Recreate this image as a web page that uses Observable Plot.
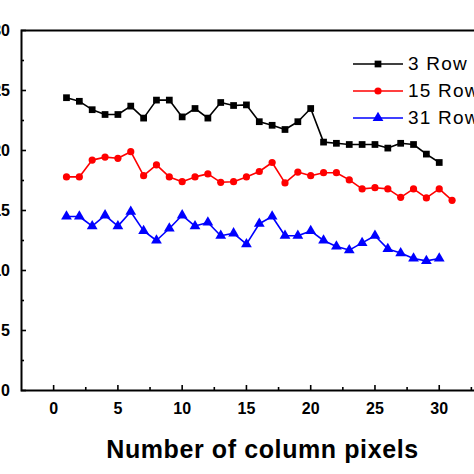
<!DOCTYPE html>
<html><head><meta charset="utf-8">
<script src="https://cdn.jsdelivr.net/npm/d3@7"></script>
<script src="https://cdn.jsdelivr.net/npm/@observablehq/plot@0.6"></script>
<style>
html,body{margin:0;padding:0;background:#fff;overflow:hidden;width:474px;height:474px}
#wrap{position:relative;width:474px;height:474px;overflow:hidden;background:#fff}
#chart{position:absolute;left:0;top:0;width:520px;height:474px}
#chart svg{overflow:visible;max-width:none !important;width:520px;height:474px}
#chart g[aria-label="x-axis label"] text{font-size:25px;font-weight:bold;letter-spacing:0.6px}
.lg{position:absolute;left:353px;height:20px;display:flex;align-items:center;white-space:nowrap;font:19px "Liberation Sans",Arial,sans-serif;letter-spacing:1.2px;color:#000}
.lg svg{display:block;margin-right:5px}
</style></head><body><div id="wrap"><div id="chart"></div></div>
<script>
// ---- data ----
const columnPixels = [1,2,3,4,5,6,7,8,9,10,11,12,13,14,15,16,17,18,19,20,21,22,23,24,25,26,27,28,29,30,31];
const seriesNames = ["3 Row", "15 Row", "31 Row"];
const row3  = [24.4,24.1,23.4,23.0,23.0,23.7,22.7,24.2,24.2,22.8,23.5,22.7,24.0,23.75,23.8,22.4,22.1,21.75,22.4,23.5,20.7,20.6,20.5,20.5,20.5,20.2,20.6,20.5,19.7,19.0];
const row15 = [17.8,17.8,19.2,19.45,19.35,19.9,17.9,18.8,17.8,17.4,17.8,18.05,17.35,17.4,17.8,18.25,19.0,17.3,18.2,17.9,18.15,18.15,17.55,16.8,16.9,16.8,16.1,16.8,16.05,16.8,15.85];
const row31 = [14.5,14.5,13.7,14.6,13.7,14.9,13.3,12.5,13.5,14.6,13.7,14.0,12.9,13.1,12.2,13.9,14.5,12.9,12.9,13.3,12.5,12.0,11.7,12.3,12.9,11.8,11.45,11.0,10.8,11.0];
const xTicks = [0,5,10,15,20,25,30];
const xMinorTicks = [2.5,7.5,12.5,17.5,22.5,27.5,32.5];
const yTicks = [0,5,10,15,20,25,30];
const yMinorTicks = [2.5,7.5,12.5,17.5,22.5,27.5];
const xLabel = "Number of column pixels";

// ---- styles ----
const seriesValues = [row3, row15, row31];
const seriesColor = ["#000000", "#ff0000", "#0000ff"];
const seriesSymbol = ["square", "circle", "triangle"];
const seriesR = [3.8, 3.6, 4.0];

const table = seriesValues.map((vals, s) => vals.map((v, i) => ({series: seriesNames[s], x: columnPixels[i], y: v})));

const marks = [
  Plot.frame({stroke: "#000", strokeWidth: 2}),
  Plot.axisX(xTicks, {tickSize: -5, tickPadding: 17, strokeWidth: 1.6, label: xLabel, labelAnchor: "center", labelArrow: "none", labelOffset: 67}),
  Plot.axisX(xMinorTicks, {tickSize: -3, strokeWidth: 1.6, fill: "none", label: null}),
  Plot.axisY(yTicks, {tickSize: -5, tickPadding: 16.5, strokeWidth: 1.6, label: null}),
  Plot.axisY(yMinorTicks, {tickSize: -3, strokeWidth: 1.6, fill: "none", label: null})
];
table.forEach((rows, s) => {
  marks.push(Plot.line(rows, {x: "x", y: "y", stroke: seriesColor[s], strokeWidth: 1.6}));
  marks.push(Plot.dot(rows, {x: "x", y: "y", symbol: seriesSymbol[s], r: seriesR[s], fill: seriesColor[s], stroke: "none"}));
});

const plot = Plot.plot({
  width: 520, height: 474,
  marginLeft: 21, marginRight: 17, marginTop: 30, marginBottom: 84,
  x: {domain: [-2.5, 35]},
  y: {domain: [0, 30]},
  style: {fontFamily: '"Liberation Sans", Arial, sans-serif', fontSize: "16px", fontWeight: "bold", color: "#000", background: "transparent", overflow: "visible", maxWidth: "none"},
  marks
});
document.getElementById("chart").appendChild(plot);

// ---- legend (inside plot, top right) ----
const wrap = document.getElementById("wrap");
const legendTop = [53.5, 80.5, 107.5];
seriesNames.forEach((name, s) => {
  const row = document.createElement("div");
  row.className = "lg";
  row.style.top = legendTop[s] + "px";
  const sv = d3.create("svg").attr("width", 50).attr("height", 20);
  sv.append("line").attr("x1", 0).attr("x2", 50).attr("y1", 10).attr("y2", 10).attr("stroke", seriesColor[s]).attr("stroke-width", 1.6);
  const symType = {square: d3.symbolSquare, circle: d3.symbolCircle, triangle: d3.symbolTriangle}[seriesSymbol[s]];
  sv.append("path").attr("transform", "translate(25,10)").attr("d", d3.symbol(symType, Math.PI * seriesR[s] * seriesR[s])()).attr("fill", seriesColor[s]);
  row.appendChild(sv.node());
  const t = document.createElement("span");
  t.textContent = name;
  row.appendChild(t);
  wrap.appendChild(row);
});
</script>
</body></html>
